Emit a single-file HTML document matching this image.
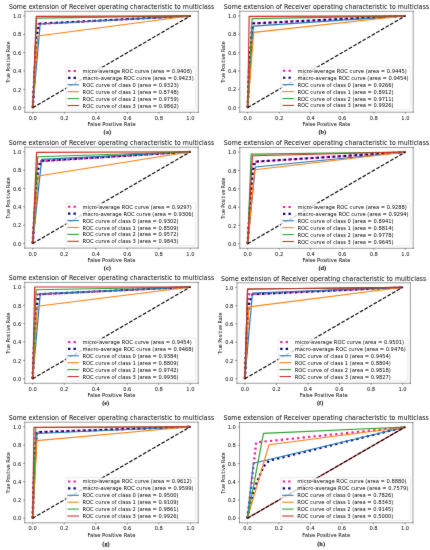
<!DOCTYPE html>
<html><head><meta charset="utf-8"><style>
html,body{margin:0;padding:0;background:#fff}
#w{position:relative;width:430px;height:550px;overflow:hidden;background:#fff;filter:url(#bl)}
svg{display:block;position:absolute;left:0;top:0}
.t,.c{position:absolute;left:0;top:0;white-space:nowrap;line-height:0;transform-origin:0 0;color:#000}
.t{font-family:"DejaVu Sans","Liberation Sans",sans-serif}
.c{font-family:"Liberation Serif",serif;font-weight:bold;font-size:64px;color:#000}
</style></head>
<body><svg width="0" height="0" style="position:absolute"><filter id="bl" x="0" y="0" width="100%" height="100%" color-interpolation-filters="sRGB"><feConvolveMatrix order="3" kernelMatrix="1 2 1 2 32 2 1 2 1" edgeMode="duplicate"/></filter></svg><div id="w"><svg width="430" height="550" viewBox="0 0 430 550">
<style>*{stroke-linejoin:round;stroke-linecap:butt}</style>
<g transform="matrix(0.516 0 0 0.465 -6.060 -7.300)">
<g>

<g>
<path d="M 60 257.204
L 396.046 257.204
L 396.046 40
L 60 40
z
" style="fill: #ffffff"/>
<g>
<path d="M 75.275 257.204 L 75.275 260.704" style="stroke: #000000; stroke-width: 0.8"/>
<path d="M 136.374 257.204 L 136.374 260.704" style="stroke: #000000; stroke-width: 0.8"/>
<path d="M 197.474 257.204 L 197.474 260.704" style="stroke: #000000; stroke-width: 0.8"/>
<path d="M 258.573 257.204 L 258.573 260.704" style="stroke: #000000; stroke-width: 0.8"/>
<path d="M 319.672 257.204 L 319.672 260.704" style="stroke: #000000; stroke-width: 0.8"/>
<path d="M 380.772 257.204 L 380.772 260.704" style="stroke: #000000; stroke-width: 0.8"/>
</g>
<g>
<path d="M 60 247.331 L 56.5 247.331" style="stroke: #000000; stroke-width: 0.8"/>
<path d="M 60 207.84 L 56.5 207.84" style="stroke: #000000; stroke-width: 0.8"/>
<path d="M 60 168.348 L 56.5 168.348" style="stroke: #000000; stroke-width: 0.8"/>
<path d="M 60 128.856 L 56.5 128.856" style="stroke: #000000; stroke-width: 0.8"/>
<path d="M 60 89.365 L 56.5 89.365" style="stroke: #000000; stroke-width: 0.8"/>
<path d="M 60 49.873 L 56.5 49.873" style="stroke: #000000; stroke-width: 0.8"/>
</g>
<path d="M 75.274 247.331
L 84.317 67.407
L 380.771 49.872
" clip-path="url(#p0_pd529606569)" style="fill: none; stroke-dasharray: 4.5,6.1; stroke-dashoffset: 0; stroke: #ff1493; stroke-width: 4.5"/>
<path d="M 75.274 247.331
L 81.995 105.676
L 82.606 97.260
L 84.745 81.846
L 89.633 66.324
L 380.771 49.872
" clip-path="url(#p0_pd529606569)" style="fill: none; stroke-dasharray: 4.5,6.1; stroke-dashoffset: 0; stroke: #000080; stroke-width: 4.5"/>
<path d="M 75.274 247.331
L 89.633 67.328
L 380.771 49.872
" clip-path="url(#p0_pd529606569)" style="fill: none; stroke: #1f77b4; stroke-width: 2.3; stroke-linecap: square"/>
<path d="M 75.274 247.331
L 84.745 93.195
L 380.771 49.872
" clip-path="url(#p0_pd529606569)" style="fill: none; stroke: #ff7f0e; stroke-width: 2.3; stroke-linecap: square"/>
<path d="M 75.274 247.331
L 82.606 54.651
L 380.771 49.872
" clip-path="url(#p0_pd529606569)" style="fill: none; stroke: #2ca02c; stroke-width: 2.3; stroke-linecap: square"/>
<path d="M 75.274 247.331
L 81.995 50.978
L 380.771 49.872
" clip-path="url(#p0_pd529606569)" style="fill: none; stroke: #d62728; stroke-width: 2.3; stroke-linecap: square"/>
<path d="M 75.274 247.331
L 380.771 49.872
" clip-path="url(#p0_pd529606569)" style="fill: none; stroke-dasharray: 7.4,3.2; stroke-dashoffset: 0; stroke: #000000; stroke-width: 2.4"/>
<path d="M 60 257.204
L 60 40
" style="fill: none; stroke: #000000; stroke-width: 0.8; stroke-linejoin: miter; stroke-linecap: square"/>
<path d="M 396.046 257.204
L 396.046 40
" style="fill: none; stroke: #000000; stroke-width: 0.8; stroke-linejoin: miter; stroke-linecap: square"/>
<path d="M 60 257.204
L 396.046 257.204
" style="fill: none; stroke: #000000; stroke-width: 0.8; stroke-linejoin: miter; stroke-linecap: square"/>
<path d="M 60 40
L 396.046 40
" style="fill: none; stroke: #000000; stroke-width: 0.8; stroke-linejoin: miter; stroke-linecap: square"/>
<g>
<path d="M 141.757 252.204
L 389.046 252.204
Q 391.046 252.204 391.046 250.204
L 391.046 162.135
Q 391.046 160.135 389.046 160.135
L 141.757 160.135
Q 139.757 160.135 139.757 162.135
L 139.757 250.204
Q 139.757 252.204 141.757 252.204
z
" style="fill: #ffffff; opacity: 0.8; stroke: #cccccc; stroke-linejoin: miter"/>
<path d="M 143.757 168.233
L 153.757 168.233
L 163.757 168.233
" style="fill: none; stroke-dasharray: 4.5,6.1; stroke-dashoffset: 0; stroke: #ff1493; stroke-width: 4.5"/>
<path d="M 143.757 183.112
L 153.757 183.112
L 163.757 183.112
" style="fill: none; stroke-dasharray: 4.5,6.1; stroke-dashoffset: 0; stroke: #000080; stroke-width: 4.5"/>
<path d="M 143.757 197.990
L 153.757 197.990
L 163.757 197.990
" style="fill: none; stroke: #1f77b4; stroke-width: 2.3; stroke-linecap: square"/>
<path d="M 143.757 212.868
L 153.757 212.868
L 163.757 212.868
" style="fill: none; stroke: #ff7f0e; stroke-width: 2.3; stroke-linecap: square"/>
<path d="M 143.757 227.746
L 153.757 227.746
L 163.757 227.746
" style="fill: none; stroke: #2ca02c; stroke-width: 2.3; stroke-linecap: square"/>
<path d="M 143.757 242.624
L 153.757 242.624
L 163.757 242.624
" style="fill: none; stroke: #d62728; stroke-width: 2.3; stroke-linecap: square"/>
</g>
</g>
</g>
<defs>
<clipPath id="p0_pd529606569">
<rect x="60" y="40" width="336.046" height="217.204"/>
</clipPath>
</defs>
</g>
<g transform="matrix(0.516 0 0 0.465 208.840 -7.300)">
<g>

<g>
<path d="M 60 256.989
L 396.046 256.989
L 396.046 40
L 60 40
z
" style="fill: #ffffff"/>
<g>
<path d="M 75.275 256.989 L 75.275 260.489" style="stroke: #000000; stroke-width: 0.8"/>
<path d="M 136.374 256.989 L 136.374 260.489" style="stroke: #000000; stroke-width: 0.8"/>
<path d="M 197.474 256.989 L 197.474 260.489" style="stroke: #000000; stroke-width: 0.8"/>
<path d="M 258.573 256.989 L 258.573 260.489" style="stroke: #000000; stroke-width: 0.8"/>
<path d="M 319.672 256.989 L 319.672 260.489" style="stroke: #000000; stroke-width: 0.8"/>
<path d="M 380.772 256.989 L 380.772 260.489" style="stroke: #000000; stroke-width: 0.8"/>
</g>
<g>
<path d="M 60 247.126 L 56.5 247.126" style="stroke: #000000; stroke-width: 0.8"/>
<path d="M 60 207.674 L 56.5 207.674" style="stroke: #000000; stroke-width: 0.8"/>
<path d="M 60 168.221 L 56.5 168.221" style="stroke: #000000; stroke-width: 0.8"/>
<path d="M 60 128.768 L 56.5 128.768" style="stroke: #000000; stroke-width: 0.8"/>
<path d="M 60 89.316 L 56.5 89.316" style="stroke: #000000; stroke-width: 0.8"/>
<path d="M 60 49.863 L 56.5 49.863" style="stroke: #000000; stroke-width: 0.8"/>
</g>
<path d="M 75.274 247.126
L 83.752 66.285
L 380.771 49.863
" clip-path="url(#p1_p4f5ac83d0c)" style="fill: none; stroke-dasharray: 4.5,6.1; stroke-dashoffset: 0; stroke: #ff1493; stroke-width: 4.5"/>
<path d="M 75.274 247.126
L 78.177 159.834
L 83.828 85.367
L 85.967 69.141
L 86.883 65.924
L 380.771 49.863
" clip-path="url(#p1_p4f5ac83d0c)" style="fill: none; stroke-dasharray: 4.5,6.1; stroke-dashoffset: 0; stroke: #000080; stroke-width: 4.5"/>
<path d="M 75.274 247.126
L 85.967 71.917
L 380.771 49.863
" clip-path="url(#p1_p4f5ac83d0c)" style="fill: none; stroke: #1f77b4; stroke-width: 2.3; stroke-linecap: square"/>
<path d="M 75.274 247.126
L 86.883 85.291
L 380.771 49.863
" clip-path="url(#p1_p4f5ac83d0c)" style="fill: none; stroke: #ff7f0e; stroke-width: 2.3; stroke-linecap: square"/>
<path d="M 75.274 247.126
L 83.828 55.741
L 380.771 49.863
" clip-path="url(#p1_p4f5ac83d0c)" style="fill: none; stroke: #2ca02c; stroke-width: 2.3; stroke-linecap: square"/>
<path d="M 75.274 247.126
L 78.177 50.908
L 380.771 49.863
" clip-path="url(#p1_p4f5ac83d0c)" style="fill: none; stroke: #d62728; stroke-width: 2.3; stroke-linecap: square"/>
<path d="M 75.274 247.126
L 380.771 49.863
" clip-path="url(#p1_p4f5ac83d0c)" style="fill: none; stroke-dasharray: 7.4,3.2; stroke-dashoffset: 0; stroke: #000000; stroke-width: 2.4"/>
<path d="M 60 256.989
L 60 40
" style="fill: none; stroke: #000000; stroke-width: 0.8; stroke-linejoin: miter; stroke-linecap: square"/>
<path d="M 396.046 256.989
L 396.046 40
" style="fill: none; stroke: #000000; stroke-width: 0.8; stroke-linejoin: miter; stroke-linecap: square"/>
<path d="M 60 256.989
L 396.046 256.989
" style="fill: none; stroke: #000000; stroke-width: 0.8; stroke-linejoin: miter; stroke-linecap: square"/>
<path d="M 60 40
L 396.046 40
" style="fill: none; stroke: #000000; stroke-width: 0.8; stroke-linejoin: miter; stroke-linecap: square"/>
<g>
<path d="M 141.757 251.989
L 389.046 251.989
Q 391.046 251.989 391.046 249.989
L 391.046 161.920
Q 391.046 159.920 389.046 159.920
L 141.757 159.920
Q 139.757 159.920 139.757 161.920
L 139.757 249.989
Q 139.757 251.989 141.757 251.989
z
" style="fill: #ffffff; opacity: 0.8; stroke: #cccccc; stroke-linejoin: miter"/>
<path d="M 143.757 168.018
L 153.757 168.018
L 163.757 168.018
" style="fill: none; stroke-dasharray: 4.5,6.1; stroke-dashoffset: 0; stroke: #ff1493; stroke-width: 4.5"/>
<path d="M 143.757 182.897
L 153.757 182.897
L 163.757 182.897
" style="fill: none; stroke-dasharray: 4.5,6.1; stroke-dashoffset: 0; stroke: #000080; stroke-width: 4.5"/>
<path d="M 143.757 197.775
L 153.757 197.775
L 163.757 197.775
" style="fill: none; stroke: #1f77b4; stroke-width: 2.3; stroke-linecap: square"/>
<path d="M 143.757 212.653
L 153.757 212.653
L 163.757 212.653
" style="fill: none; stroke: #ff7f0e; stroke-width: 2.3; stroke-linecap: square"/>
<path d="M 143.757 227.531
L 153.757 227.531
L 163.757 227.531
" style="fill: none; stroke: #2ca02c; stroke-width: 2.3; stroke-linecap: square"/>
<path d="M 143.757 242.409
L 153.757 242.409
L 163.757 242.409
" style="fill: none; stroke: #d62728; stroke-width: 2.3; stroke-linecap: square"/>
</g>
</g>
</g>
<defs>
<clipPath id="p1_p4f5ac83d0c">
<rect x="60" y="40" width="336.046" height="216.989"/>
</clipPath>
</defs>
</g>
<g transform="matrix(0.516 0 0 0.465 -6.160 128.600)">
<g>

<g>
<path d="M 60 256.989
L 396.046 256.989
L 396.046 40
L 60 40
z
" style="fill: #ffffff"/>
<g>
<path d="M 75.275 256.989 L 75.275 260.489" style="stroke: #000000; stroke-width: 0.8"/>
<path d="M 136.374 256.989 L 136.374 260.489" style="stroke: #000000; stroke-width: 0.8"/>
<path d="M 197.474 256.989 L 197.474 260.489" style="stroke: #000000; stroke-width: 0.8"/>
<path d="M 258.573 256.989 L 258.573 260.489" style="stroke: #000000; stroke-width: 0.8"/>
<path d="M 319.672 256.989 L 319.672 260.489" style="stroke: #000000; stroke-width: 0.8"/>
<path d="M 380.772 256.989 L 380.772 260.489" style="stroke: #000000; stroke-width: 0.8"/>
</g>
<g>
<path d="M 60 247.126 L 56.5 247.126" style="stroke: #000000; stroke-width: 0.8"/>
<path d="M 60 207.674 L 56.5 207.674" style="stroke: #000000; stroke-width: 0.8"/>
<path d="M 60 168.221 L 56.5 168.221" style="stroke: #000000; stroke-width: 0.8"/>
<path d="M 60 128.768 L 56.5 128.768" style="stroke: #000000; stroke-width: 0.8"/>
<path d="M 60 89.316 L 56.5 89.316" style="stroke: #000000; stroke-width: 0.8"/>
<path d="M 60 49.863 L 56.5 49.863" style="stroke: #000000; stroke-width: 0.8"/>
</g>
<path d="M 75.274 247.126
L 86.013 70.664
L 380.771 49.863
" clip-path="url(#p2_p4f5ac83d0c)" style="fill: none; stroke-dasharray: 4.5,6.1; stroke-dashoffset: 0; stroke: #ff1493; stroke-width: 4.5"/>
<path d="M 75.274 247.126
L 82.912 115.865
L 85.050 92.830
L 85.967 87.325
L 92.688 69.500
L 380.771 49.863
" clip-path="url(#p2_p4f5ac83d0c)" style="fill: none; stroke-dasharray: 4.5,6.1; stroke-dashoffset: 0; stroke: #000080; stroke-width: 4.5"/>
<path d="M 75.274 247.126
L 92.688 66.157
L 380.771 49.863
" clip-path="url(#p2_p4f5ac83d0c)" style="fill: none; stroke: #1f77b4; stroke-width: 2.3; stroke-linecap: square"/>
<path d="M 75.274 247.126
L 85.967 101.782
L 380.771 49.863
" clip-path="url(#p2_p4f5ac83d0c)" style="fill: none; stroke: #ff7f0e; stroke-width: 2.3; stroke-linecap: square"/>
<path d="M 75.274 247.126
L 85.050 60.436
L 380.771 49.863
" clip-path="url(#p2_p4f5ac83d0c)" style="fill: none; stroke: #2ca02c; stroke-width: 2.3; stroke-linecap: square"/>
<path d="M 75.274 247.126
L 82.912 51.125
L 380.771 49.863
" clip-path="url(#p2_p4f5ac83d0c)" style="fill: none; stroke: #d62728; stroke-width: 2.3; stroke-linecap: square"/>
<path d="M 75.274 247.126
L 380.771 49.863
" clip-path="url(#p2_p4f5ac83d0c)" style="fill: none; stroke-dasharray: 7.4,3.2; stroke-dashoffset: 0; stroke: #000000; stroke-width: 2.4"/>
<path d="M 60 256.989
L 60 40
" style="fill: none; stroke: #000000; stroke-width: 0.8; stroke-linejoin: miter; stroke-linecap: square"/>
<path d="M 396.046 256.989
L 396.046 40
" style="fill: none; stroke: #000000; stroke-width: 0.8; stroke-linejoin: miter; stroke-linecap: square"/>
<path d="M 60 256.989
L 396.046 256.989
" style="fill: none; stroke: #000000; stroke-width: 0.8; stroke-linejoin: miter; stroke-linecap: square"/>
<path d="M 60 40
L 396.046 40
" style="fill: none; stroke: #000000; stroke-width: 0.8; stroke-linejoin: miter; stroke-linecap: square"/>
<g>
<path d="M 141.757 251.989
L 389.046 251.989
Q 391.046 251.989 391.046 249.989
L 391.046 161.920
Q 391.046 159.920 389.046 159.920
L 141.757 159.920
Q 139.757 159.920 139.757 161.920
L 139.757 249.989
Q 139.757 251.989 141.757 251.989
z
" style="fill: #ffffff; opacity: 0.8; stroke: #cccccc; stroke-linejoin: miter"/>
<path d="M 143.757 168.018
L 153.757 168.018
L 163.757 168.018
" style="fill: none; stroke-dasharray: 4.5,6.1; stroke-dashoffset: 0; stroke: #ff1493; stroke-width: 4.5"/>
<path d="M 143.757 182.897
L 153.757 182.897
L 163.757 182.897
" style="fill: none; stroke-dasharray: 4.5,6.1; stroke-dashoffset: 0; stroke: #000080; stroke-width: 4.5"/>
<path d="M 143.757 197.775
L 153.757 197.775
L 163.757 197.775
" style="fill: none; stroke: #1f77b4; stroke-width: 2.3; stroke-linecap: square"/>
<path d="M 143.757 212.653
L 153.757 212.653
L 163.757 212.653
" style="fill: none; stroke: #ff7f0e; stroke-width: 2.3; stroke-linecap: square"/>
<path d="M 143.757 227.531
L 153.757 227.531
L 163.757 227.531
" style="fill: none; stroke: #2ca02c; stroke-width: 2.3; stroke-linecap: square"/>
<path d="M 143.757 242.409
L 153.757 242.409
L 163.757 242.409
" style="fill: none; stroke: #d62728; stroke-width: 2.3; stroke-linecap: square"/>
</g>
</g>
</g>
<defs>
<clipPath id="p2_p4f5ac83d0c">
<rect x="60" y="40" width="336.046" height="216.989"/>
</clipPath>
</defs>
</g>
<g transform="matrix(0.516 0 0 0.465 208.840 128.900)">
<g>

<g>
<path d="M 60 256.774
L 396.046 256.774
L 396.046 40
L 60 40
z
" style="fill: #ffffff"/>
<g>
<path d="M 75.275 256.774 L 75.275 260.274" style="stroke: #000000; stroke-width: 0.8"/>
<path d="M 136.374 256.774 L 136.374 260.274" style="stroke: #000000; stroke-width: 0.8"/>
<path d="M 197.474 256.774 L 197.474 260.274" style="stroke: #000000; stroke-width: 0.8"/>
<path d="M 258.573 256.774 L 258.573 260.274" style="stroke: #000000; stroke-width: 0.8"/>
<path d="M 319.672 256.774 L 319.672 260.274" style="stroke: #000000; stroke-width: 0.8"/>
<path d="M 380.772 256.774 L 380.772 260.274" style="stroke: #000000; stroke-width: 0.8"/>
</g>
<g>
<path d="M 60 246.921 L 56.5 246.921" style="stroke: #000000; stroke-width: 0.8"/>
<path d="M 60 207.507 L 56.5 207.507" style="stroke: #000000; stroke-width: 0.8"/>
<path d="M 60 168.094 L 56.5 168.094" style="stroke: #000000; stroke-width: 0.8"/>
<path d="M 60 128.68 L 56.5 128.68" style="stroke: #000000; stroke-width: 0.8"/>
<path d="M 60 89.267 L 56.5 89.267" style="stroke: #000000; stroke-width: 0.8"/>
<path d="M 60 49.853 L 56.5 49.853" style="stroke: #000000; stroke-width: 0.8"/>
</g>
<path d="M 75.274 246.920
L 86.150 70.900
L 380.771 49.853
" clip-path="url(#p3_pf90fb3882d)" style="fill: none; stroke-dasharray: 4.5,6.1; stroke-dashoffset: 0; stroke: #ff1493; stroke-width: 4.5"/>
<path d="M 75.274 246.920
L 81.995 125.564
L 84.439 98.940
L 88.869 73.488
L 89.938 70.438
L 380.771 49.853
" clip-path="url(#p3_pf90fb3882d)" style="fill: none; stroke-dasharray: 4.5,6.1; stroke-dashoffset: 0; stroke: #000080; stroke-width: 4.5"/>
<path d="M 75.274 246.920
L 89.938 82.133
L 380.771 49.853
" clip-path="url(#p3_pf90fb3882d)" style="fill: none; stroke: #1f77b4; stroke-width: 2.3; stroke-linecap: square"/>
<path d="M 75.274 246.920
L 88.869 87.828
L 380.771 49.853
" clip-path="url(#p3_pf90fb3882d)" style="fill: none; stroke: #ff7f0e; stroke-width: 2.3; stroke-linecap: square"/>
<path d="M 75.274 246.920
L 81.995 54.267
L 380.771 49.853
" clip-path="url(#p3_pf90fb3882d)" style="fill: none; stroke: #2ca02c; stroke-width: 2.3; stroke-linecap: square"/>
<path d="M 75.274 246.920
L 84.439 57.933
L 380.771 49.853
" clip-path="url(#p3_pf90fb3882d)" style="fill: none; stroke: #d62728; stroke-width: 2.3; stroke-linecap: square"/>
<path d="M 75.274 246.920
L 380.771 49.853
" clip-path="url(#p3_pf90fb3882d)" style="fill: none; stroke-dasharray: 7.4,3.2; stroke-dashoffset: 0; stroke: #000000; stroke-width: 2.4"/>
<path d="M 60 256.774
L 60 40
" style="fill: none; stroke: #000000; stroke-width: 0.8; stroke-linejoin: miter; stroke-linecap: square"/>
<path d="M 396.046 256.774
L 396.046 40
" style="fill: none; stroke: #000000; stroke-width: 0.8; stroke-linejoin: miter; stroke-linecap: square"/>
<path d="M 60 256.774
L 396.046 256.774
" style="fill: none; stroke: #000000; stroke-width: 0.8; stroke-linejoin: miter; stroke-linecap: square"/>
<path d="M 60 40
L 396.046 40
" style="fill: none; stroke: #000000; stroke-width: 0.8; stroke-linejoin: miter; stroke-linecap: square"/>
<g>
<path d="M 141.757 251.774
L 389.046 251.774
Q 391.046 251.774 391.046 249.774
L 391.046 161.705
Q 391.046 159.705 389.046 159.705
L 141.757 159.705
Q 139.757 159.705 139.757 161.705
L 139.757 249.774
Q 139.757 251.774 141.757 251.774
z
" style="fill: #ffffff; opacity: 0.8; stroke: #cccccc; stroke-linejoin: miter"/>
<path d="M 143.757 167.803
L 153.757 167.803
L 163.757 167.803
" style="fill: none; stroke-dasharray: 4.5,6.1; stroke-dashoffset: 0; stroke: #ff1493; stroke-width: 4.5"/>
<path d="M 143.757 182.682
L 153.757 182.682
L 163.757 182.682
" style="fill: none; stroke-dasharray: 4.5,6.1; stroke-dashoffset: 0; stroke: #000080; stroke-width: 4.5"/>
<path d="M 143.757 197.560
L 153.757 197.560
L 163.757 197.560
" style="fill: none; stroke: #1f77b4; stroke-width: 2.3; stroke-linecap: square"/>
<path d="M 143.757 212.438
L 153.757 212.438
L 163.757 212.438
" style="fill: none; stroke: #ff7f0e; stroke-width: 2.3; stroke-linecap: square"/>
<path d="M 143.757 227.316
L 153.757 227.316
L 163.757 227.316
" style="fill: none; stroke: #2ca02c; stroke-width: 2.3; stroke-linecap: square"/>
<path d="M 143.757 242.194
L 153.757 242.194
L 163.757 242.194
" style="fill: none; stroke: #d62728; stroke-width: 2.3; stroke-linecap: square"/>
</g>
</g>
</g>
<defs>
<clipPath id="p3_pf90fb3882d">
<rect x="60" y="40" width="336.046" height="216.774"/>
</clipPath>
</defs>
</g>
<g transform="matrix(0.516 0 0 0.465 -6.160 263.800)">
<g>

<g>
<path d="M 60 256.989
L 396.046 256.989
L 396.046 40
L 60 40
z
" style="fill: #ffffff"/>
<g>
<path d="M 75.275 256.989 L 75.275 260.489" style="stroke: #000000; stroke-width: 0.8"/>
<path d="M 136.374 256.989 L 136.374 260.489" style="stroke: #000000; stroke-width: 0.8"/>
<path d="M 197.474 256.989 L 197.474 260.489" style="stroke: #000000; stroke-width: 0.8"/>
<path d="M 258.573 256.989 L 258.573 260.489" style="stroke: #000000; stroke-width: 0.8"/>
<path d="M 319.672 256.989 L 319.672 260.489" style="stroke: #000000; stroke-width: 0.8"/>
<path d="M 380.772 256.989 L 380.772 260.489" style="stroke: #000000; stroke-width: 0.8"/>
</g>
<g>
<path d="M 60 247.126 L 56.5 247.126" style="stroke: #000000; stroke-width: 0.8"/>
<path d="M 60 207.674 L 56.5 207.674" style="stroke: #000000; stroke-width: 0.8"/>
<path d="M 60 168.221 L 56.5 168.221" style="stroke: #000000; stroke-width: 0.8"/>
<path d="M 60 128.768 L 56.5 128.768" style="stroke: #000000; stroke-width: 0.8"/>
<path d="M 60 89.316 L 56.5 89.316" style="stroke: #000000; stroke-width: 0.8"/>
<path d="M 60 49.863 L 56.5 49.863" style="stroke: #000000; stroke-width: 0.8"/>
</g>
<path d="M 75.274 247.126
L 83.614 66.018
L 380.771 49.863
" clip-path="url(#p4_p4f5ac83d0c)" style="fill: none; stroke-dasharray: 4.5,6.1; stroke-dashoffset: 0; stroke: #ff1493; stroke-width: 4.5"/>
<path d="M 75.274 247.126
L 79.185 140.591
L 81.995 99.465
L 84.134 83.390
L 89.938 65.107
L 380.771 49.863
" clip-path="url(#p4_p4f5ac83d0c)" style="fill: none; stroke-dasharray: 4.5,6.1; stroke-dashoffset: 0; stroke: #000080; stroke-width: 4.5"/>
<path d="M 75.274 247.126
L 89.938 64.697
L 380.771 49.863
" clip-path="url(#p4_p4f5ac83d0c)" style="fill: none; stroke: #1f77b4; stroke-width: 2.3; stroke-linecap: square"/>
<path d="M 75.274 247.126
L 84.134 91.130
L 380.771 49.863
" clip-path="url(#p4_p4f5ac83d0c)" style="fill: none; stroke: #ff7f0e; stroke-width: 2.3; stroke-linecap: square"/>
<path d="M 75.274 247.126
L 81.995 55.702
L 380.771 49.863
" clip-path="url(#p4_p4f5ac83d0c)" style="fill: none; stroke: #2ca02c; stroke-width: 2.3; stroke-linecap: square"/>
<path d="M 75.274 247.126
L 79.185 49.863
L 380.771 49.863
" clip-path="url(#p4_p4f5ac83d0c)" style="fill: none; stroke: #d62728; stroke-width: 2.3; stroke-linecap: square"/>
<path d="M 75.274 247.126
L 380.771 49.863
" clip-path="url(#p4_p4f5ac83d0c)" style="fill: none; stroke-dasharray: 7.4,3.2; stroke-dashoffset: 0; stroke: #000000; stroke-width: 2.4"/>
<path d="M 60 256.989
L 60 40
" style="fill: none; stroke: #000000; stroke-width: 0.8; stroke-linejoin: miter; stroke-linecap: square"/>
<path d="M 396.046 256.989
L 396.046 40
" style="fill: none; stroke: #000000; stroke-width: 0.8; stroke-linejoin: miter; stroke-linecap: square"/>
<path d="M 60 256.989
L 396.046 256.989
" style="fill: none; stroke: #000000; stroke-width: 0.8; stroke-linejoin: miter; stroke-linecap: square"/>
<path d="M 60 40
L 396.046 40
" style="fill: none; stroke: #000000; stroke-width: 0.8; stroke-linejoin: miter; stroke-linecap: square"/>
<g>
<path d="M 141.757 251.989
L 389.046 251.989
Q 391.046 251.989 391.046 249.989
L 391.046 161.920
Q 391.046 159.920 389.046 159.920
L 141.757 159.920
Q 139.757 159.920 139.757 161.920
L 139.757 249.989
Q 139.757 251.989 141.757 251.989
z
" style="fill: #ffffff; opacity: 0.8; stroke: #cccccc; stroke-linejoin: miter"/>
<path d="M 143.757 168.018
L 153.757 168.018
L 163.757 168.018
" style="fill: none; stroke-dasharray: 4.5,6.1; stroke-dashoffset: 0; stroke: #ff1493; stroke-width: 4.5"/>
<path d="M 143.757 182.897
L 153.757 182.897
L 163.757 182.897
" style="fill: none; stroke-dasharray: 4.5,6.1; stroke-dashoffset: 0; stroke: #000080; stroke-width: 4.5"/>
<path d="M 143.757 197.775
L 153.757 197.775
L 163.757 197.775
" style="fill: none; stroke: #1f77b4; stroke-width: 2.3; stroke-linecap: square"/>
<path d="M 143.757 212.653
L 153.757 212.653
L 163.757 212.653
" style="fill: none; stroke: #ff7f0e; stroke-width: 2.3; stroke-linecap: square"/>
<path d="M 143.757 227.531
L 153.757 227.531
L 163.757 227.531
" style="fill: none; stroke: #2ca02c; stroke-width: 2.3; stroke-linecap: square"/>
<path d="M 143.757 242.409
L 153.757 242.409
L 163.757 242.409
" style="fill: none; stroke: #d62728; stroke-width: 2.3; stroke-linecap: square"/>
</g>
</g>
</g>
<defs>
<clipPath id="p4_p4f5ac83d0c">
<rect x="60" y="40" width="336.046" height="216.989"/>
</clipPath>
</defs>
</g>
<g transform="matrix(0.516 0 0 0.465 206.040 264.200)">
<g>

<g>
<path d="M 60 256.129
L 396.046 256.129
L 396.046 40
L 60 40
z
" style="fill: #ffffff"/>
<g>
<path d="M 75.275 256.129 L 75.275 259.629" style="stroke: #000000; stroke-width: 0.8"/>
<path d="M 136.374 256.129 L 136.374 259.629" style="stroke: #000000; stroke-width: 0.8"/>
<path d="M 197.474 256.129 L 197.474 259.629" style="stroke: #000000; stroke-width: 0.8"/>
<path d="M 258.573 256.129 L 258.573 259.629" style="stroke: #000000; stroke-width: 0.8"/>
<path d="M 319.672 256.129 L 319.672 259.629" style="stroke: #000000; stroke-width: 0.8"/>
<path d="M 380.772 256.129 L 380.772 259.629" style="stroke: #000000; stroke-width: 0.8"/>
</g>
<g>
<path d="M 60 246.305 L 56.5 246.305" style="stroke: #000000; stroke-width: 0.8"/>
<path d="M 60 207.009 L 56.5 207.009" style="stroke: #000000; stroke-width: 0.8"/>
<path d="M 60 167.713 L 56.5 167.713" style="stroke: #000000; stroke-width: 0.8"/>
<path d="M 60 128.416 L 56.5 128.416" style="stroke: #000000; stroke-width: 0.8"/>
<path d="M 60 89.12 L 56.5 89.12" style="stroke: #000000; stroke-width: 0.8"/>
<path d="M 60 49.824 L 56.5 49.824" style="stroke: #000000; stroke-width: 0.8"/>
</g>
<path d="M 75.274 246.304
L 82.896 64.530
L 380.771 49.824
" clip-path="url(#p5_pc282d92e93)" style="fill: none; stroke-dasharray: 4.5,6.1; stroke-dashoffset: 0; stroke: #ff1493; stroke-width: 4.5"/>
<path d="M 75.274 246.304
L 80.468 107.302
L 82.912 87.250
L 89.938 64.863
L 380.771 49.824
" clip-path="url(#p5_pc282d92e93)" style="fill: none; stroke-dasharray: 4.5,6.1; stroke-dashoffset: 0; stroke: #000080; stroke-width: 4.5"/>
<path d="M 75.274 246.304
L 89.938 61.848
L 380.771 49.824
" clip-path="url(#p5_pc282d92e93)" style="fill: none; stroke: #1f77b4; stroke-width: 2.3; stroke-linecap: square"/>
<path d="M 75.274 246.304
L 82.912 91.910
L 380.771 49.824
" clip-path="url(#p5_pc282d92e93)" style="fill: none; stroke: #ff7f0e; stroke-width: 2.3; stroke-linecap: square"/>
<path d="M 75.274 246.304
L 80.468 53.635
L 380.771 49.824
" clip-path="url(#p5_pc282d92e93)" style="fill: none; stroke: #a83a28; stroke-width: 2.3; stroke-linecap: square"/>
<path d="M 75.274 246.304
L 80.468 53.282
L 380.771 49.824
" clip-path="url(#p5_pc282d92e93)" style="fill: none; stroke: #a83a28; stroke-width: 2.3; stroke-linecap: square"/>
<path d="M 75.274 246.304
L 380.771 49.824
" clip-path="url(#p5_pc282d92e93)" style="fill: none; stroke-dasharray: 7.4,3.2; stroke-dashoffset: 0; stroke: #000000; stroke-width: 2.4"/>
<path d="M 60 256.129
L 60 40
" style="fill: none; stroke: #000000; stroke-width: 0.8; stroke-linejoin: miter; stroke-linecap: square"/>
<path d="M 396.046 256.129
L 396.046 40
" style="fill: none; stroke: #000000; stroke-width: 0.8; stroke-linejoin: miter; stroke-linecap: square"/>
<path d="M 60 256.129
L 396.046 256.129
" style="fill: none; stroke: #000000; stroke-width: 0.8; stroke-linejoin: miter; stroke-linecap: square"/>
<path d="M 60 40
L 396.046 40
" style="fill: none; stroke: #000000; stroke-width: 0.8; stroke-linejoin: miter; stroke-linecap: square"/>
<g>
<path d="M 141.757 251.129
L 389.046 251.129
Q 391.046 251.129 391.046 249.129
L 391.046 161.060
Q 391.046 159.060 389.046 159.060
L 141.757 159.060
Q 139.757 159.060 139.757 161.060
L 139.757 249.129
Q 139.757 251.129 141.757 251.129
z
" style="fill: #ffffff; opacity: 0.8; stroke: #cccccc; stroke-linejoin: miter"/>
<path d="M 143.757 167.158
L 153.757 167.158
L 163.757 167.158
" style="fill: none; stroke-dasharray: 4.5,6.1; stroke-dashoffset: 0; stroke: #ff1493; stroke-width: 4.5"/>
<path d="M 143.757 182.036
L 153.757 182.036
L 163.757 182.036
" style="fill: none; stroke-dasharray: 4.5,6.1; stroke-dashoffset: 0; stroke: #000080; stroke-width: 4.5"/>
<path d="M 143.757 196.914
L 153.757 196.914
L 163.757 196.914
" style="fill: none; stroke: #1f77b4; stroke-width: 2.3; stroke-linecap: square"/>
<path d="M 143.757 211.793
L 153.757 211.793
L 163.757 211.793
" style="fill: none; stroke: #ff7f0e; stroke-width: 2.3; stroke-linecap: square"/>
<path d="M 143.757 226.671
L 153.757 226.671
L 163.757 226.671
" style="fill: none; stroke: #2ca02c; stroke-width: 2.3; stroke-linecap: square"/>
<path d="M 143.757 241.549
L 153.757 241.549
L 163.757 241.549
" style="fill: none; stroke: #d62728; stroke-width: 2.3; stroke-linecap: square"/>
</g>
</g>
</g>
<defs>
<clipPath id="p5_pc282d92e93">
<rect x="60" y="40" width="336.046" height="216.129"/>
</clipPath>
</defs>
</g>
<g transform="matrix(0.516 0 0 0.465 -6.160 403.600)">
<g>

<g>
<path d="M 60 256.344
L 396.046 256.344
L 396.046 40
L 60 40
z
" style="fill: #ffffff"/>
<g>
<path d="M 75.275 256.344 L 75.275 259.844" style="stroke: #000000; stroke-width: 0.8"/>
<path d="M 136.374 256.344 L 136.374 259.844" style="stroke: #000000; stroke-width: 0.8"/>
<path d="M 197.474 256.344 L 197.474 259.844" style="stroke: #000000; stroke-width: 0.8"/>
<path d="M 258.573 256.344 L 258.573 259.844" style="stroke: #000000; stroke-width: 0.8"/>
<path d="M 319.672 256.344 L 319.672 259.844" style="stroke: #000000; stroke-width: 0.8"/>
<path d="M 380.772 256.344 L 380.772 259.844" style="stroke: #000000; stroke-width: 0.8"/>
</g>
<g>
<path d="M 60 246.51 L 56.5 246.51" style="stroke: #000000; stroke-width: 0.8"/>
<path d="M 60 207.175 L 56.5 207.175" style="stroke: #000000; stroke-width: 0.8"/>
<path d="M 60 167.84 L 56.5 167.84" style="stroke: #000000; stroke-width: 0.8"/>
<path d="M 60 128.504 L 56.5 128.504" style="stroke: #000000; stroke-width: 0.8"/>
<path d="M 60 89.169 L 56.5 89.169" style="stroke: #000000; stroke-width: 0.8"/>
<path d="M 60 49.834 L 56.5 49.834" style="stroke: #000000; stroke-width: 0.8"/>
</g>
<path d="M 75.274 246.510
L 81.201 61.280
L 380.771 49.833
" clip-path="url(#p6_p35dcaf8272)" style="fill: none; stroke-dasharray: 4.5,6.1; stroke-dashoffset: 0; stroke: #ff1493; stroke-width: 4.5"/>
<path d="M 75.274 246.510
L 77.718 152.290
L 81.384 84.208
L 83.523 61.566
L 380.771 49.833
" clip-path="url(#p6_p35dcaf8272)" style="fill: none; stroke-dasharray: 4.5,6.1; stroke-dashoffset: 0; stroke: #000080; stroke-width: 4.5"/>
<path d="M 75.274 246.510
L 83.523 64.191
L 380.771 49.833
" clip-path="url(#p6_p35dcaf8272)" style="fill: none; stroke: #1f77b4; stroke-width: 2.3; stroke-linecap: square"/>
<path d="M 75.274 246.510
L 83.523 79.571
L 380.771 49.833
" clip-path="url(#p6_p35dcaf8272)" style="fill: none; stroke: #ff7f0e; stroke-width: 2.3; stroke-linecap: square"/>
<path d="M 75.274 246.510
L 81.384 51.367
L 380.771 49.833
" clip-path="url(#p6_p35dcaf8272)" style="fill: none; stroke: #2ca02c; stroke-width: 2.3; stroke-linecap: square"/>
<path d="M 75.274 246.510
L 77.718 51.171
L 380.771 49.833
" clip-path="url(#p6_p35dcaf8272)" style="fill: none; stroke: #d62728; stroke-width: 2.3; stroke-linecap: square"/>
<path d="M 75.274 246.510
L 380.771 49.833
" clip-path="url(#p6_p35dcaf8272)" style="fill: none; stroke-dasharray: 7.4,3.2; stroke-dashoffset: 0; stroke: #000000; stroke-width: 2.4"/>
<path d="M 60 256.344
L 60 40
" style="fill: none; stroke: #000000; stroke-width: 0.8; stroke-linejoin: miter; stroke-linecap: square"/>
<path d="M 396.046 256.344
L 396.046 40
" style="fill: none; stroke: #000000; stroke-width: 0.8; stroke-linejoin: miter; stroke-linecap: square"/>
<path d="M 60 256.344
L 396.046 256.344
" style="fill: none; stroke: #000000; stroke-width: 0.8; stroke-linejoin: miter; stroke-linecap: square"/>
<path d="M 60 40
L 396.046 40
" style="fill: none; stroke: #000000; stroke-width: 0.8; stroke-linejoin: miter; stroke-linecap: square"/>
<g>
<path d="M 141.757 251.344
L 389.046 251.344
Q 391.046 251.344 391.046 249.344
L 391.046 161.275
Q 391.046 159.275 389.046 159.275
L 141.757 159.275
Q 139.757 159.275 139.757 161.275
L 139.757 249.344
Q 139.757 251.344 141.757 251.344
z
" style="fill: #ffffff; opacity: 0.8; stroke: #cccccc; stroke-linejoin: miter"/>
<path d="M 143.757 167.373
L 153.757 167.373
L 163.757 167.373
" style="fill: none; stroke-dasharray: 4.5,6.1; stroke-dashoffset: 0; stroke: #ff1493; stroke-width: 4.5"/>
<path d="M 143.757 182.251
L 153.757 182.251
L 163.757 182.251
" style="fill: none; stroke-dasharray: 4.5,6.1; stroke-dashoffset: 0; stroke: #000080; stroke-width: 4.5"/>
<path d="M 143.757 197.130
L 153.757 197.130
L 163.757 197.130
" style="fill: none; stroke: #1f77b4; stroke-width: 2.3; stroke-linecap: square"/>
<path d="M 143.757 212.008
L 153.757 212.008
L 163.757 212.008
" style="fill: none; stroke: #ff7f0e; stroke-width: 2.3; stroke-linecap: square"/>
<path d="M 143.757 226.886
L 153.757 226.886
L 163.757 226.886
" style="fill: none; stroke: #2ca02c; stroke-width: 2.3; stroke-linecap: square"/>
<path d="M 143.757 241.764
L 153.757 241.764
L 163.757 241.764
" style="fill: none; stroke: #d62728; stroke-width: 2.3; stroke-linecap: square"/>
</g>
</g>
</g>
<defs>
<clipPath id="p6_p35dcaf8272">
<rect x="60" y="40" width="336.046" height="216.344"/>
</clipPath>
</defs>
</g>
<g transform="matrix(0.516 0 0 0.465 208.540 403.900)">
<g>

<g>
<path d="M 60 255.698
L 396.046 255.698
L 396.046 40
L 60 40
z
" style="fill: #ffffff"/>
<g>
<path d="M 75.275 255.699 L 75.275 259.199" style="stroke: #000000; stroke-width: 0.8"/>
<path d="M 136.374 255.699 L 136.374 259.199" style="stroke: #000000; stroke-width: 0.8"/>
<path d="M 197.474 255.699 L 197.474 259.199" style="stroke: #000000; stroke-width: 0.8"/>
<path d="M 258.573 255.699 L 258.573 259.199" style="stroke: #000000; stroke-width: 0.8"/>
<path d="M 319.672 255.699 L 319.672 259.199" style="stroke: #000000; stroke-width: 0.8"/>
<path d="M 380.772 255.699 L 380.772 259.199" style="stroke: #000000; stroke-width: 0.8"/>
</g>
<g>
<path d="M 60 245.894 L 56.5 245.894" style="stroke: #000000; stroke-width: 0.8"/>
<path d="M 60 206.676 L 56.5 206.676" style="stroke: #000000; stroke-width: 0.8"/>
<path d="M 60 167.458 L 56.5 167.458" style="stroke: #000000; stroke-width: 0.8"/>
<path d="M 60 128.24 L 56.5 128.24" style="stroke: #000000; stroke-width: 0.8"/>
<path d="M 60 89.022 L 56.5 89.022" style="stroke: #000000; stroke-width: 0.8"/>
<path d="M 60 49.804 L 56.5 49.804" style="stroke: #000000; stroke-width: 0.8"/>
</g>
<path d="M 75.274 245.894
L 92.382 82.747
L 380.771 49.804
" clip-path="url(#p7_pcabf3ed894)" style="fill: none; stroke-dasharray: 4.5,6.1; stroke-dashoffset: 0; stroke: #ff1493; stroke-width: 4.5"/>
<path d="M 75.274 245.894
L 86.883 186.503
L 106.435 134.986
L 117.127 122.341
L 380.771 49.804
" clip-path="url(#p7_pcabf3ed894)" style="fill: none; stroke-dasharray: 4.5,6.1; stroke-dashoffset: 0; stroke: #000080; stroke-width: 4.5"/>
<path d="M 75.274 245.894
L 86.883 127.612
L 380.771 49.804
" clip-path="url(#p7_pcabf3ed894)" style="fill: none; stroke: #1f77b4; stroke-width: 2.3; stroke-linecap: square"/>
<path d="M 75.274 245.894
L 117.127 87.924
L 380.771 49.804
" clip-path="url(#p7_pcabf3ed894)" style="fill: none; stroke: #ff7f0e; stroke-width: 2.3; stroke-linecap: square"/>
<path d="M 75.274 245.894
L 106.435 63.334
L 380.771 49.804
" clip-path="url(#p7_pcabf3ed894)" style="fill: none; stroke: #2ca02c; stroke-width: 2.3; stroke-linecap: square"/>
<path d="M 75.274 245.894
L 380.771 49.804
" clip-path="url(#p7_pcabf3ed894)" style="fill: none; stroke: #d62728; stroke-width: 2.3; stroke-linecap: square"/>
<path d="M 75.274 245.894
L 380.771 49.804
" clip-path="url(#p7_pcabf3ed894)" style="fill: none; stroke-dasharray: 7.4,3.2; stroke-dashoffset: 0; stroke: #000000; stroke-width: 2.4"/>
<path d="M 60 255.698
L 60 40
" style="fill: none; stroke: #000000; stroke-width: 0.8; stroke-linejoin: miter; stroke-linecap: square"/>
<path d="M 396.046 255.698
L 396.046 40
" style="fill: none; stroke: #000000; stroke-width: 0.8; stroke-linejoin: miter; stroke-linecap: square"/>
<path d="M 60 255.698
L 396.046 255.698
" style="fill: none; stroke: #000000; stroke-width: 0.8; stroke-linejoin: miter; stroke-linecap: square"/>
<path d="M 60 40
L 396.046 40
" style="fill: none; stroke: #000000; stroke-width: 0.8; stroke-linejoin: miter; stroke-linecap: square"/>
<g>
<path d="M 141.757 250.698
L 389.046 250.698
Q 391.046 250.698 391.046 248.698
L 391.046 160.630
Q 391.046 158.630 389.046 158.630
L 141.757 158.630
Q 139.757 158.630 139.757 160.630
L 139.757 248.698
Q 139.757 250.698 141.757 250.698
z
" style="fill: #ffffff; opacity: 0.8; stroke: #cccccc; stroke-linejoin: miter"/>
<path d="M 143.757 166.728
L 153.757 166.728
L 163.757 166.728
" style="fill: none; stroke-dasharray: 4.5,6.1; stroke-dashoffset: 0; stroke: #ff1493; stroke-width: 4.5"/>
<path d="M 143.757 181.606
L 153.757 181.606
L 163.757 181.606
" style="fill: none; stroke-dasharray: 4.5,6.1; stroke-dashoffset: 0; stroke: #000080; stroke-width: 4.5"/>
<path d="M 143.757 196.484
L 153.757 196.484
L 163.757 196.484
" style="fill: none; stroke: #1f77b4; stroke-width: 2.3; stroke-linecap: square"/>
<path d="M 143.757 211.362
L 153.757 211.362
L 163.757 211.362
" style="fill: none; stroke: #ff7f0e; stroke-width: 2.3; stroke-linecap: square"/>
<path d="M 143.757 226.241
L 153.757 226.241
L 163.757 226.241
" style="fill: none; stroke: #2ca02c; stroke-width: 2.3; stroke-linecap: square"/>
<path d="M 143.757 241.119
L 153.757 241.119
L 163.757 241.119
" style="fill: none; stroke: #d62728; stroke-width: 2.3; stroke-linecap: square"/>
</g>
</g>
</g>
<defs>
<clipPath id="p7_pcabf3ed894">
<rect x="60" y="40" width="336.046" height="215.698"/>
</clipPath>
</defs>
</g>
</svg>
<div class="t" style="font-size:100px;transform:translate(32.78px,119.99px) scale(0.0516,0.055) translate(-50%,-34.00px)">0.0</div>
<div class="t" style="font-size:100px;transform:translate(64.31px,119.99px) scale(0.0516,0.055) translate(-50%,-34.00px)">0.2</div>
<div class="t" style="font-size:100px;transform:translate(95.84px,119.99px) scale(0.0516,0.055) translate(-50%,-34.00px)">0.4</div>
<div class="t" style="font-size:100px;transform:translate(127.36px,119.99px) scale(0.0516,0.055) translate(-50%,-34.00px)">0.6</div>
<div class="t" style="font-size:100px;transform:translate(158.89px,119.99px) scale(0.0516,0.055) translate(-50%,-34.00px)">0.8</div>
<div class="t" style="font-size:100px;transform:translate(190.42px,119.99px) scale(0.0516,0.055) translate(-50%,-34.00px)">1.0</div>
<div class="t" style="font-size:100px;transform:translate(111.60px,126.35px) scale(0.0516,0.055) translate(-50%,-34.00px)">False Positive Rate</div>
<div class="t" style="font-size:100px;transform:translate(21.29px,109.88px) scale(0.0516,0.055) translate(-100%,-34.00px)">0.0</div>
<div class="t" style="font-size:100px;transform:translate(21.29px,91.51px) scale(0.0516,0.055) translate(-100%,-34.00px)">0.2</div>
<div class="t" style="font-size:100px;transform:translate(21.29px,73.15px) scale(0.0516,0.055) translate(-100%,-34.00px)">0.4</div>
<div class="t" style="font-size:100px;transform:translate(21.29px,54.78px) scale(0.0516,0.055) translate(-100%,-34.00px)">0.6</div>
<div class="t" style="font-size:100px;transform:translate(21.29px,36.42px) scale(0.0516,0.055) translate(-100%,-34.00px)">0.8</div>
<div class="t" style="font-size:100px;transform:translate(21.29px,18.06px) scale(0.0516,0.055) translate(-100%,-34.00px)">1.0</div>
<div class="t" style="font-size:100px;transform:translate(9.94px,62.20px) scale(0.058,0.0465) rotate(-90deg) translate(-50%,-34.00px)">True Positive Rate</div>
<div class="t" style="font-size:120px;transform:translate(111.60px,9.11px) scale(0.052,0.055) translate(-50%,-40.80px)">Some extension of Receiver operating characteristic to multiclass</div>
<div class="t" style="font-size:100px;transform:translate(82.57px,72.96px) scale(0.0516,0.055) translate(0,-34.00px)">micro-average ROC curve (area = 0.9408)</div>
<div class="t" style="font-size:100px;transform:translate(82.57px,79.87px) scale(0.0516,0.055) translate(0,-34.00px)">macro-average ROC curve (area = 0.9423)</div>
<div class="t" style="font-size:100px;transform:translate(82.57px,86.79px) scale(0.0516,0.055) translate(0,-34.00px)">ROC curve of class 0 (area = 0.9323)</div>
<div class="t" style="font-size:100px;transform:translate(82.57px,93.71px) scale(0.0516,0.055) translate(0,-34.00px)">ROC curve of class 1 (area = 0.8748)</div>
<div class="t" style="font-size:100px;transform:translate(82.57px,100.63px) scale(0.0516,0.055) translate(0,-34.00px)">ROC curve of class 2 (area = 0.9759)</div>
<div class="t" style="font-size:100px;transform:translate(82.57px,107.55px) scale(0.0516,0.055) translate(0,-34.00px)">ROC curve of class 3 (area = 0.9862)</div>
<div class="t" style="font-size:100px;transform:translate(247.68px,119.89px) scale(0.0516,0.055) translate(-50%,-34.00px)">0.0</div>
<div class="t" style="font-size:100px;transform:translate(279.21px,119.89px) scale(0.0516,0.055) translate(-50%,-34.00px)">0.2</div>
<div class="t" style="font-size:100px;transform:translate(310.74px,119.89px) scale(0.0516,0.055) translate(-50%,-34.00px)">0.4</div>
<div class="t" style="font-size:100px;transform:translate(342.26px,119.89px) scale(0.0516,0.055) translate(-50%,-34.00px)">0.6</div>
<div class="t" style="font-size:100px;transform:translate(373.79px,119.89px) scale(0.0516,0.055) translate(-50%,-34.00px)">0.8</div>
<div class="t" style="font-size:100px;transform:translate(405.32px,119.89px) scale(0.0516,0.055) translate(-50%,-34.00px)">1.0</div>
<div class="t" style="font-size:100px;transform:translate(326.50px,126.25px) scale(0.0516,0.055) translate(-50%,-34.00px)">False Positive Rate</div>
<div class="t" style="font-size:100px;transform:translate(236.19px,109.78px) scale(0.0516,0.055) translate(-100%,-34.00px)">0.0</div>
<div class="t" style="font-size:100px;transform:translate(236.19px,91.43px) scale(0.0516,0.055) translate(-100%,-34.00px)">0.2</div>
<div class="t" style="font-size:100px;transform:translate(236.19px,73.09px) scale(0.0516,0.055) translate(-100%,-34.00px)">0.4</div>
<div class="t" style="font-size:100px;transform:translate(236.19px,54.74px) scale(0.0516,0.055) translate(-100%,-34.00px)">0.6</div>
<div class="t" style="font-size:100px;transform:translate(236.19px,36.40px) scale(0.0516,0.055) translate(-100%,-34.00px)">0.8</div>
<div class="t" style="font-size:100px;transform:translate(236.19px,18.05px) scale(0.0516,0.055) translate(-100%,-34.00px)">1.0</div>
<div class="t" style="font-size:100px;transform:translate(224.84px,62.15px) scale(0.058,0.0465) rotate(-90deg) translate(-50%,-34.00px)">True Positive Rate</div>
<div class="t" style="font-size:120px;transform:translate(326.50px,9.11px) scale(0.052,0.055) translate(-50%,-40.80px)">Some extension of Receiver operating characteristic to multiclass</div>
<div class="t" style="font-size:100px;transform:translate(297.47px,72.86px) scale(0.0516,0.055) translate(0,-34.00px)">micro-average ROC curve (area = 0.9445)</div>
<div class="t" style="font-size:100px;transform:translate(297.47px,79.77px) scale(0.0516,0.055) translate(0,-34.00px)">macro-average ROC curve (area = 0.9454)</div>
<div class="t" style="font-size:100px;transform:translate(297.47px,86.69px) scale(0.0516,0.055) translate(0,-34.00px)">ROC curve of class 0 (area = 0.9266)</div>
<div class="t" style="font-size:100px;transform:translate(297.47px,93.61px) scale(0.0516,0.055) translate(0,-34.00px)">ROC curve of class 1 (area = 0.8912)</div>
<div class="t" style="font-size:100px;transform:translate(297.47px,100.53px) scale(0.0516,0.055) translate(0,-34.00px)">ROC curve of class 2 (area = 0.9711)</div>
<div class="t" style="font-size:100px;transform:translate(297.47px,107.45px) scale(0.0516,0.055) translate(0,-34.00px)">ROC curve of class 3 (area = 0.9926)</div>
<div class="t" style="font-size:100px;transform:translate(32.68px,255.79px) scale(0.0516,0.055) translate(-50%,-34.00px)">0.0</div>
<div class="t" style="font-size:100px;transform:translate(64.21px,255.79px) scale(0.0516,0.055) translate(-50%,-34.00px)">0.2</div>
<div class="t" style="font-size:100px;transform:translate(95.74px,255.79px) scale(0.0516,0.055) translate(-50%,-34.00px)">0.4</div>
<div class="t" style="font-size:100px;transform:translate(127.26px,255.79px) scale(0.0516,0.055) translate(-50%,-34.00px)">0.6</div>
<div class="t" style="font-size:100px;transform:translate(158.79px,255.79px) scale(0.0516,0.055) translate(-50%,-34.00px)">0.8</div>
<div class="t" style="font-size:100px;transform:translate(190.32px,255.79px) scale(0.0516,0.055) translate(-50%,-34.00px)">1.0</div>
<div class="t" style="font-size:100px;transform:translate(111.50px,262.15px) scale(0.0516,0.055) translate(-50%,-34.00px)">False Positive Rate</div>
<div class="t" style="font-size:100px;transform:translate(21.19px,245.68px) scale(0.0516,0.055) translate(-100%,-34.00px)">0.0</div>
<div class="t" style="font-size:100px;transform:translate(21.19px,227.33px) scale(0.0516,0.055) translate(-100%,-34.00px)">0.2</div>
<div class="t" style="font-size:100px;transform:translate(21.19px,208.99px) scale(0.0516,0.055) translate(-100%,-34.00px)">0.4</div>
<div class="t" style="font-size:100px;transform:translate(21.19px,190.64px) scale(0.0516,0.055) translate(-100%,-34.00px)">0.6</div>
<div class="t" style="font-size:100px;transform:translate(21.19px,172.30px) scale(0.0516,0.055) translate(-100%,-34.00px)">0.8</div>
<div class="t" style="font-size:100px;transform:translate(21.19px,153.95px) scale(0.0516,0.055) translate(-100%,-34.00px)">1.0</div>
<div class="t" style="font-size:100px;transform:translate(9.84px,198.05px) scale(0.058,0.0465) rotate(-90deg) translate(-50%,-34.00px)">True Positive Rate</div>
<div class="t" style="font-size:120px;transform:translate(111.50px,145.01px) scale(0.052,0.055) translate(-50%,-40.80px)">Some extension of Receiver operating characteristic to multiclass</div>
<div class="t" style="font-size:100px;transform:translate(82.47px,208.76px) scale(0.0516,0.055) translate(0,-34.00px)">micro-average ROC curve (area = 0.9297)</div>
<div class="t" style="font-size:100px;transform:translate(82.47px,215.67px) scale(0.0516,0.055) translate(0,-34.00px)">macro-average ROC curve (area = 0.9306)</div>
<div class="t" style="font-size:100px;transform:translate(82.47px,222.59px) scale(0.0516,0.055) translate(0,-34.00px)">ROC curve of class 0 (area = 0.9302)</div>
<div class="t" style="font-size:100px;transform:translate(82.47px,229.51px) scale(0.0516,0.055) translate(0,-34.00px)">ROC curve of class 1 (area = 0.8509)</div>
<div class="t" style="font-size:100px;transform:translate(82.47px,236.43px) scale(0.0516,0.055) translate(0,-34.00px)">ROC curve of class 2 (area = 0.9572)</div>
<div class="t" style="font-size:100px;transform:translate(82.47px,243.35px) scale(0.0516,0.055) translate(0,-34.00px)">ROC curve of class 3 (area = 0.9843)</div>
<div class="t" style="font-size:100px;transform:translate(247.68px,255.99px) scale(0.0516,0.055) translate(-50%,-34.00px)">0.0</div>
<div class="t" style="font-size:100px;transform:translate(279.21px,255.99px) scale(0.0516,0.055) translate(-50%,-34.00px)">0.2</div>
<div class="t" style="font-size:100px;transform:translate(310.74px,255.99px) scale(0.0516,0.055) translate(-50%,-34.00px)">0.4</div>
<div class="t" style="font-size:100px;transform:translate(342.26px,255.99px) scale(0.0516,0.055) translate(-50%,-34.00px)">0.6</div>
<div class="t" style="font-size:100px;transform:translate(373.79px,255.99px) scale(0.0516,0.055) translate(-50%,-34.00px)">0.8</div>
<div class="t" style="font-size:100px;transform:translate(405.32px,255.99px) scale(0.0516,0.055) translate(-50%,-34.00px)">1.0</div>
<div class="t" style="font-size:100px;transform:translate(326.50px,262.35px) scale(0.0516,0.055) translate(-50%,-34.00px)">False Positive Rate</div>
<div class="t" style="font-size:100px;transform:translate(236.19px,245.88px) scale(0.0516,0.055) translate(-100%,-34.00px)">0.0</div>
<div class="t" style="font-size:100px;transform:translate(236.19px,227.56px) scale(0.0516,0.055) translate(-100%,-34.00px)">0.2</div>
<div class="t" style="font-size:100px;transform:translate(236.19px,209.23px) scale(0.0516,0.055) translate(-100%,-34.00px)">0.4</div>
<div class="t" style="font-size:100px;transform:translate(236.19px,190.90px) scale(0.0516,0.055) translate(-100%,-34.00px)">0.6</div>
<div class="t" style="font-size:100px;transform:translate(236.19px,172.58px) scale(0.0516,0.055) translate(-100%,-34.00px)">0.8</div>
<div class="t" style="font-size:100px;transform:translate(236.19px,154.25px) scale(0.0516,0.055) translate(-100%,-34.00px)">1.0</div>
<div class="t" style="font-size:100px;transform:translate(224.84px,198.30px) scale(0.058,0.0465) rotate(-90deg) translate(-50%,-34.00px)">True Positive Rate</div>
<div class="t" style="font-size:120px;transform:translate(326.50px,145.31px) scale(0.052,0.055) translate(-50%,-40.80px)">Some extension of Receiver operating characteristic to multiclass</div>
<div class="t" style="font-size:100px;transform:translate(297.47px,208.96px) scale(0.0516,0.055) translate(0,-34.00px)">micro-average ROC curve (area = 0.9288)</div>
<div class="t" style="font-size:100px;transform:translate(297.47px,215.87px) scale(0.0516,0.055) translate(0,-34.00px)">macro-average ROC curve (area = 0.9294)</div>
<div class="t" style="font-size:100px;transform:translate(297.47px,222.79px) scale(0.0516,0.055) translate(0,-34.00px)">ROC curve of class 0 (area = 0.8941)</div>
<div class="t" style="font-size:100px;transform:translate(297.47px,229.71px) scale(0.0516,0.055) translate(0,-34.00px)">ROC curve of class 1 (area = 0.8814)</div>
<div class="t" style="font-size:100px;transform:translate(297.47px,236.63px) scale(0.0516,0.055) translate(0,-34.00px)">ROC curve of class 2 (area = 0.9778)</div>
<div class="t" style="font-size:100px;transform:translate(297.47px,243.55px) scale(0.0516,0.055) translate(0,-34.00px)">ROC curve of class 3 (area = 0.9645)</div>
<div class="t" style="font-size:100px;transform:translate(32.68px,390.99px) scale(0.0516,0.055) translate(-50%,-34.00px)">0.0</div>
<div class="t" style="font-size:100px;transform:translate(64.21px,390.99px) scale(0.0516,0.055) translate(-50%,-34.00px)">0.2</div>
<div class="t" style="font-size:100px;transform:translate(95.74px,390.99px) scale(0.0516,0.055) translate(-50%,-34.00px)">0.4</div>
<div class="t" style="font-size:100px;transform:translate(127.26px,390.99px) scale(0.0516,0.055) translate(-50%,-34.00px)">0.6</div>
<div class="t" style="font-size:100px;transform:translate(158.79px,390.99px) scale(0.0516,0.055) translate(-50%,-34.00px)">0.8</div>
<div class="t" style="font-size:100px;transform:translate(190.32px,390.99px) scale(0.0516,0.055) translate(-50%,-34.00px)">1.0</div>
<div class="t" style="font-size:100px;transform:translate(111.50px,397.35px) scale(0.0516,0.055) translate(-50%,-34.00px)">False Positive Rate</div>
<div class="t" style="font-size:100px;transform:translate(21.19px,380.88px) scale(0.0516,0.055) translate(-100%,-34.00px)">0.0</div>
<div class="t" style="font-size:100px;transform:translate(21.19px,362.53px) scale(0.0516,0.055) translate(-100%,-34.00px)">0.2</div>
<div class="t" style="font-size:100px;transform:translate(21.19px,344.19px) scale(0.0516,0.055) translate(-100%,-34.00px)">0.4</div>
<div class="t" style="font-size:100px;transform:translate(21.19px,325.84px) scale(0.0516,0.055) translate(-100%,-34.00px)">0.6</div>
<div class="t" style="font-size:100px;transform:translate(21.19px,307.50px) scale(0.0516,0.055) translate(-100%,-34.00px)">0.8</div>
<div class="t" style="font-size:100px;transform:translate(21.19px,289.15px) scale(0.0516,0.055) translate(-100%,-34.00px)">1.0</div>
<div class="t" style="font-size:100px;transform:translate(9.84px,333.25px) scale(0.058,0.0465) rotate(-90deg) translate(-50%,-34.00px)">True Positive Rate</div>
<div class="t" style="font-size:120px;transform:translate(111.50px,280.21px) scale(0.052,0.055) translate(-50%,-40.80px)">Some extension of Receiver operating characteristic to multiclass</div>
<div class="t" style="font-size:100px;transform:translate(82.47px,343.96px) scale(0.0516,0.055) translate(0,-34.00px)">micro-average ROC curve (area = 0.9454)</div>
<div class="t" style="font-size:100px;transform:translate(82.47px,350.87px) scale(0.0516,0.055) translate(0,-34.00px)">macro-average ROC curve (area = 0.9468)</div>
<div class="t" style="font-size:100px;transform:translate(82.47px,357.79px) scale(0.0516,0.055) translate(0,-34.00px)">ROC curve of class 0 (area = 0.9384)</div>
<div class="t" style="font-size:100px;transform:translate(82.47px,364.71px) scale(0.0516,0.055) translate(0,-34.00px)">ROC curve of class 1 (area = 0.8809)</div>
<div class="t" style="font-size:100px;transform:translate(82.47px,371.63px) scale(0.0516,0.055) translate(0,-34.00px)">ROC curve of class 2 (area = 0.9742)</div>
<div class="t" style="font-size:100px;transform:translate(82.47px,378.55px) scale(0.0516,0.055) translate(0,-34.00px)">ROC curve of class 3 (area = 0.9936)</div>
<div class="t" style="font-size:100px;transform:translate(244.88px,390.99px) scale(0.0516,0.055) translate(-50%,-34.00px)">0.0</div>
<div class="t" style="font-size:100px;transform:translate(276.41px,390.99px) scale(0.0516,0.055) translate(-50%,-34.00px)">0.2</div>
<div class="t" style="font-size:100px;transform:translate(307.94px,390.99px) scale(0.0516,0.055) translate(-50%,-34.00px)">0.4</div>
<div class="t" style="font-size:100px;transform:translate(339.46px,390.99px) scale(0.0516,0.055) translate(-50%,-34.00px)">0.6</div>
<div class="t" style="font-size:100px;transform:translate(370.99px,390.99px) scale(0.0516,0.055) translate(-50%,-34.00px)">0.8</div>
<div class="t" style="font-size:100px;transform:translate(402.52px,390.99px) scale(0.0516,0.055) translate(-50%,-34.00px)">1.0</div>
<div class="t" style="font-size:100px;transform:translate(323.70px,397.35px) scale(0.0516,0.055) translate(-50%,-34.00px)">False Positive Rate</div>
<div class="t" style="font-size:100px;transform:translate(233.39px,380.90px) scale(0.0516,0.055) translate(-100%,-34.00px)">0.0</div>
<div class="t" style="font-size:100px;transform:translate(233.39px,362.63px) scale(0.0516,0.055) translate(-100%,-34.00px)">0.2</div>
<div class="t" style="font-size:100px;transform:translate(233.39px,344.35px) scale(0.0516,0.055) translate(-100%,-34.00px)">0.4</div>
<div class="t" style="font-size:100px;transform:translate(233.39px,326.08px) scale(0.0516,0.055) translate(-100%,-34.00px)">0.6</div>
<div class="t" style="font-size:100px;transform:translate(233.39px,307.81px) scale(0.0516,0.055) translate(-100%,-34.00px)">0.8</div>
<div class="t" style="font-size:100px;transform:translate(233.39px,289.53px) scale(0.0516,0.055) translate(-100%,-34.00px)">1.0</div>
<div class="t" style="font-size:100px;transform:translate(222.04px,333.45px) scale(0.058,0.0465) rotate(-90deg) translate(-50%,-34.00px)">True Positive Rate</div>
<div class="t" style="font-size:120px;transform:translate(323.70px,280.61px) scale(0.052,0.055) translate(-50%,-40.80px)">Some extension of Receiver operating characteristic to multiclass</div>
<div class="t" style="font-size:100px;transform:translate(294.67px,343.96px) scale(0.0516,0.055) translate(0,-34.00px)">micro-average ROC curve (area = 0.9501)</div>
<div class="t" style="font-size:100px;transform:translate(294.67px,350.87px) scale(0.0516,0.055) translate(0,-34.00px)">macro-average ROC curve (area = 0.9476)</div>
<div class="t" style="font-size:100px;transform:translate(294.67px,357.79px) scale(0.0516,0.055) translate(0,-34.00px)">ROC curve of class 0 (area = 0.9454)</div>
<div class="t" style="font-size:100px;transform:translate(294.67px,364.71px) scale(0.0516,0.055) translate(0,-34.00px)">ROC curve of class 1 (area = 0.8804)</div>
<div class="t" style="font-size:100px;transform:translate(294.67px,371.63px) scale(0.0516,0.055) translate(0,-34.00px)">ROC curve of class 2 (area = 0.9818)</div>
<div class="t" style="font-size:100px;transform:translate(294.67px,378.55px) scale(0.0516,0.055) translate(0,-34.00px)">ROC curve of class 3 (area = 0.9827)</div>
<div class="t" style="font-size:100px;transform:translate(32.68px,530.49px) scale(0.0516,0.055) translate(-50%,-34.00px)">0.0</div>
<div class="t" style="font-size:100px;transform:translate(64.21px,530.49px) scale(0.0516,0.055) translate(-50%,-34.00px)">0.2</div>
<div class="t" style="font-size:100px;transform:translate(95.74px,530.49px) scale(0.0516,0.055) translate(-50%,-34.00px)">0.4</div>
<div class="t" style="font-size:100px;transform:translate(127.26px,530.49px) scale(0.0516,0.055) translate(-50%,-34.00px)">0.6</div>
<div class="t" style="font-size:100px;transform:translate(158.79px,530.49px) scale(0.0516,0.055) translate(-50%,-34.00px)">0.8</div>
<div class="t" style="font-size:100px;transform:translate(190.32px,530.49px) scale(0.0516,0.055) translate(-50%,-34.00px)">1.0</div>
<div class="t" style="font-size:100px;transform:translate(111.50px,536.85px) scale(0.0516,0.055) translate(-50%,-34.00px)">False Positive Rate</div>
<div class="t" style="font-size:100px;transform:translate(21.19px,520.39px) scale(0.0516,0.055) translate(-100%,-34.00px)">0.0</div>
<div class="t" style="font-size:100px;transform:translate(21.19px,502.10px) scale(0.0516,0.055) translate(-100%,-34.00px)">0.2</div>
<div class="t" style="font-size:100px;transform:translate(21.19px,483.81px) scale(0.0516,0.055) translate(-100%,-34.00px)">0.4</div>
<div class="t" style="font-size:100px;transform:translate(21.19px,465.52px) scale(0.0516,0.055) translate(-100%,-34.00px)">0.6</div>
<div class="t" style="font-size:100px;transform:translate(21.19px,447.23px) scale(0.0516,0.055) translate(-100%,-34.00px)">0.8</div>
<div class="t" style="font-size:100px;transform:translate(21.19px,428.94px) scale(0.0516,0.055) translate(-100%,-34.00px)">1.0</div>
<div class="t" style="font-size:100px;transform:translate(9.84px,472.90px) scale(0.058,0.0465) rotate(-90deg) translate(-50%,-34.00px)">True Positive Rate</div>
<div class="t" style="font-size:120px;transform:translate(111.50px,420.01px) scale(0.052,0.055) translate(-50%,-40.80px)">Some extension of Receiver operating characteristic to multiclass</div>
<div class="t" style="font-size:100px;transform:translate(82.47px,483.46px) scale(0.0516,0.055) translate(0,-34.00px)">micro-average ROC curve (area = 0.9612)</div>
<div class="t" style="font-size:100px;transform:translate(82.47px,490.37px) scale(0.0516,0.055) translate(0,-34.00px)">macro-average ROC curve (area = 0.9599)</div>
<div class="t" style="font-size:100px;transform:translate(82.47px,497.29px) scale(0.0516,0.055) translate(0,-34.00px)">ROC curve of class 0 (area = 0.9500)</div>
<div class="t" style="font-size:100px;transform:translate(82.47px,504.21px) scale(0.0516,0.055) translate(0,-34.00px)">ROC curve of class 1 (area = 0.9109)</div>
<div class="t" style="font-size:100px;transform:translate(82.47px,511.13px) scale(0.0516,0.055) translate(0,-34.00px)">ROC curve of class 2 (area = 0.9861)</div>
<div class="t" style="font-size:100px;transform:translate(82.47px,518.05px) scale(0.0516,0.055) translate(0,-34.00px)">ROC curve of class 3 (area = 0.9926)</div>
<div class="t" style="font-size:100px;transform:translate(247.38px,530.49px) scale(0.0516,0.055) translate(-50%,-34.00px)">0.0</div>
<div class="t" style="font-size:100px;transform:translate(278.91px,530.49px) scale(0.0516,0.055) translate(-50%,-34.00px)">0.2</div>
<div class="t" style="font-size:100px;transform:translate(310.44px,530.49px) scale(0.0516,0.055) translate(-50%,-34.00px)">0.4</div>
<div class="t" style="font-size:100px;transform:translate(341.96px,530.49px) scale(0.0516,0.055) translate(-50%,-34.00px)">0.6</div>
<div class="t" style="font-size:100px;transform:translate(373.49px,530.49px) scale(0.0516,0.055) translate(-50%,-34.00px)">0.8</div>
<div class="t" style="font-size:100px;transform:translate(405.02px,530.49px) scale(0.0516,0.055) translate(-50%,-34.00px)">1.0</div>
<div class="t" style="font-size:100px;transform:translate(326.20px,536.85px) scale(0.0516,0.055) translate(-50%,-34.00px)">False Positive Rate</div>
<div class="t" style="font-size:100px;transform:translate(235.89px,520.41px) scale(0.0516,0.055) translate(-100%,-34.00px)">0.0</div>
<div class="t" style="font-size:100px;transform:translate(235.89px,502.17px) scale(0.0516,0.055) translate(-100%,-34.00px)">0.2</div>
<div class="t" style="font-size:100px;transform:translate(235.89px,483.93px) scale(0.0516,0.055) translate(-100%,-34.00px)">0.4</div>
<div class="t" style="font-size:100px;transform:translate(235.89px,465.70px) scale(0.0516,0.055) translate(-100%,-34.00px)">0.6</div>
<div class="t" style="font-size:100px;transform:translate(235.89px,447.46px) scale(0.0516,0.055) translate(-100%,-34.00px)">0.8</div>
<div class="t" style="font-size:100px;transform:translate(235.89px,429.23px) scale(0.0516,0.055) translate(-100%,-34.00px)">1.0</div>
<div class="t" style="font-size:100px;transform:translate(224.54px,473.05px) scale(0.058,0.0465) rotate(-90deg) translate(-50%,-34.00px)">True Positive Rate</div>
<div class="t" style="font-size:120px;transform:translate(326.20px,420.31px) scale(0.052,0.055) translate(-50%,-40.80px)">Some extension of Receiver operating characteristic to multiclass</div>
<div class="t" style="font-size:100px;transform:translate(297.17px,483.46px) scale(0.0516,0.055) translate(0,-34.00px)">micro-average ROC curve (area = 0.8880)</div>
<div class="t" style="font-size:100px;transform:translate(297.17px,490.37px) scale(0.0516,0.055) translate(0,-34.00px)">macro-average ROC curve (area = 0.7579)</div>
<div class="t" style="font-size:100px;transform:translate(297.17px,497.29px) scale(0.0516,0.055) translate(0,-34.00px)">ROC curve of class 0 (area = 0.7826)</div>
<div class="t" style="font-size:100px;transform:translate(297.17px,504.21px) scale(0.0516,0.055) translate(0,-34.00px)">ROC curve of class 1 (area = 0.8343)</div>
<div class="t" style="font-size:100px;transform:translate(297.17px,511.13px) scale(0.0516,0.055) translate(0,-34.00px)">ROC curve of class 2 (area = 0.9145)</div>
<div class="t" style="font-size:100px;transform:translate(297.17px,518.05px) scale(0.0516,0.055) translate(0,-34.00px)">ROC curve of class 3 (area = 0.5000)</div>
<div class="c" style="transform:translate(107.30px,133.90px) scale(0.1,0.08) translate(-50%,-21.12px)">(a)</div>
<div class="c" style="transform:translate(322.30px,133.90px) scale(0.1,0.08) translate(-50%,-21.12px)">(b)</div>
<div class="c" style="transform:translate(107.30px,269.90px) scale(0.1,0.08) translate(-50%,-21.12px)">(c)</div>
<div class="c" style="transform:translate(322.30px,269.70px) scale(0.1,0.08) translate(-50%,-21.12px)">(d)</div>
<div class="c" style="transform:translate(105.70px,405.40px) scale(0.1,0.08) translate(-50%,-21.12px)">(e)</div>
<div class="c" style="transform:translate(320.10px,405.40px) scale(0.1,0.08) translate(-50%,-21.12px)">(f)</div>
<div class="c" style="transform:translate(106.00px,546.10px) scale(0.1,0.08) translate(-50%,-21.12px)">(g)</div>
<div class="c" style="transform:translate(321.10px,545.70px) scale(0.1,0.08) translate(-50%,-21.12px)">(h)</div>
</div></body></html>
